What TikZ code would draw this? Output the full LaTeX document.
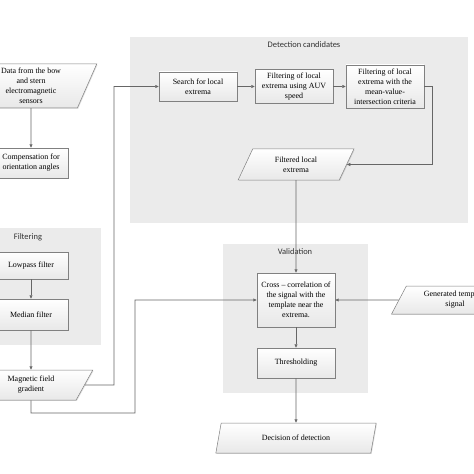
\documentclass[tikz,border=0pt]{standalone}
\usepackage{fontspec}
\setmainfont{Liberation Serif}
\newfontfamily\titlefont{Carlito}
\usetikzlibrary{shapes.geometric,arrows.meta,shadows,calc}
\tikzset{
  box/.style={draw=black!50, line width=0.5pt, top color=white, bottom color=black!9,
    drop shadow={opacity=0.25,shadow xshift=0.8pt,shadow yshift=-0.8pt},
    align=center, font=\fontsize{8}{10}\selectfont, inner sep=1pt},
  rbox/.style={box, rectangle},
  para/.style={box, trapezium, trapezium left angle=68, trapezium right angle=112,
    trapezium stretches=true},
  grp/.style={fill=black!8},
  gtitle/.style={font=\titlefont\fontsize{8.5}{10}\selectfont, text=black!80},
  line/.style={draw=black!60, line width=0.6pt},
  arr/.style={line, -{Triangle[length=3.5pt,width=3pt]}}
}
\begin{document}
\begin{tikzpicture}[x=1bp,y=-1bp]
\useasboundingbox (0,0) rectangle (474,474);
\clip (0,0) rectangle (474,474);
\fill[white] (0,0) rectangle (474,474);
% groups
\fill[grp] (130,37) rectangle (468,223);
\fill[grp] (-5,228) rectangle (101,345);
\fill[grp] (223,244) rectangle (368,393);
\node[gtitle] (tdet) at (304,45) {Detection candidates};
\node[gtitle] (tfil) at (28,237) {Filtering};
\node[gtitle] (tval) at (295,252) {Validation};
% left column
\node[para, trapezium left angle=71, trapezium right angle=109, minimum width=132bp, minimum height=44bp] (data) at (31,86) {Data from the bow\\and stern\\electromagnetic\\sensors};
\node[rbox, minimum width=74bp, minimum height=30bp] (comp) at (31,163) {Compensation for\\orientation angles};
\node[rbox, minimum width=74bp, minimum height=27bp] (low) at (31,265.5) {Lowpass filter};
\node[rbox, minimum width=74bp, minimum height=31bp] (med) at (31,314.5) {Median filter};
\node[para, trapezium left angle=65, trapezium right angle=115, minimum width=124bp, minimum height=30bp] (mag) at (31,385) {Magnetic field\\gradient};
% detection candidates
\node[rbox, minimum width=78bp, minimum height=29bp] (search) at (198,86.5) {Search for local\\extrema};
\node[rbox, minimum width=78bp, minimum height=34bp] (auv) at (294,86.5) {Filtering of local\\extrema using AUV\\speed};
\node[rbox, minimum width=78bp, minimum height=43bp] (mvi) at (385,86.5) {Filtering of local\\extrema with the\\mean-value-\\intersection criteria};
\node[para, trapezium left angle=67, trapezium right angle=113, minimum width=116bp, minimum height=31bp] (filt) at (296,164.5) {Filtered local\\extrema};
% validation
\node[rbox, minimum width=78bp, minimum height=54bp] (cross) at (296,300) {Cross -- correlation of\\the signal with the\\template near the\\extrema.};
\node[rbox, minimum width=78bp, minimum height=30bp] (thr) at (296,363) {Thresholding};
\node[para, trapezium left angle=72, trapezium right angle=108, minimum width=161bp, minimum height=30bp] (dec) at (296,438) {Decision of detection};
\node[para, trapezium left angle=63, trapezium right angle=117, minimum width=128bp, minimum height=28bp] (gen) at (455,300) {Generated template\\signal};
% connectors
\draw[arr] (data.south) -- (comp.north);
\draw[arr] (low.south) -- (med.north);
\draw[arr] (med.south) -- (mag.north);
\draw[arr] (mag.east) -- (114,385) |- (search.west);
\draw[arr] (mag.south) -- (31,413) -| (135,360) |- (cross.west);
\draw[arr] (search.east) -- (auv.west);
\draw[arr] (auv.east) -- (mvi.west);
\draw[arr] (mvi.east) -- (432,86.5) |- (filt.east);
\draw[arr] (filt.south) -- (cross.north);
\draw[arr] (gen.west) -- (cross.east);
\draw[arr] (cross.south) -- (thr.north);
\draw[arr] (thr.south) -- (dec.north);
\end{tikzpicture}
\end{document}
